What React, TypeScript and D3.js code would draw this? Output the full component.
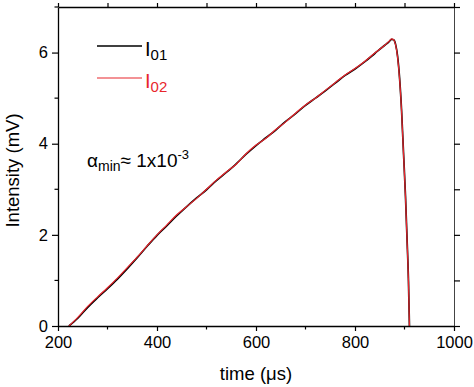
import React, { useEffect, useRef } from 'react'
import * as d3 from 'd3'

// time axis (µs) shared by both traces
const time = [222, 240, 260, 280, 300, 320, 340, 360, 380, 400, 420, 440, 460, 480, 500, 520, 540, 560, 580, 600, 620, 640, 660, 680, 700, 720, 740, 760, 780, 800, 820, 840, 860, 868, 874, 878, 882, 886, 890, 894, 898, 902, 905, 908, 910]

const i01 = [0, 0.17, 0.41, 0.62, 0.82, 1.03, 1.26, 1.5, 1.75, 1.99, 2.2, 2.42, 2.62, 2.81, 2.99, 3.19, 3.37, 3.56, 3.77, 3.96, 4.13, 4.3, 4.49, 4.66, 4.84, 5.0, 5.16, 5.33, 5.5, 5.64, 5.8, 5.98, 6.16, 6.23, 6.29, 6.28, 6.18, 5.92, 5.45, 4.75, 3.8, 2.85, 1.95, 1.0, 0]

const i02 = [0, 0.19, 0.43, 0.64, 0.84, 1.05, 1.28, 1.51, 1.76, 2.0, 2.22, 2.44, 2.62, 2.8, 3.0, 3.2, 3.38, 3.55, 3.78, 3.97, 4.12, 4.31, 4.48, 4.67, 4.85, 5.0, 5.17, 5.34, 5.51, 5.65, 5.81, 5.99, 6.16, 6.24, 6.3, 6.28, 6.17, 5.9, 5.43, 4.73, 3.78, 2.83, 1.93, 0.98, 0]

const xMajor = [200, 400, 600, 800, 1000]
const xMinor = [300, 500, 700, 900]
const yMajor = [0, 2, 4, 6]
const yMinor = [1, 3, 5, 7]

const series = [
  { name: '01', values: i01, color: '#000000', width: 1.7 },
  { name: '02', values: i02, color: '#e8262c', width: 1.2 },
]

export default function App() {
  const svgRef = useRef<SVGSVGElement>(null)
  const width = 474
  const height = 387

  useEffect(() => {
    if (!svgRef.current) return
    const root = d3.select(svgRef.current)
    root.selectAll('*').remove()

    const margin = { top: 7, right: 20, bottom: 61, left: 58 }
    const innerW = width - margin.left - margin.right
    const innerH = height - margin.top - margin.bottom
    const font = "'Liberation Sans', Arial, sans-serif"

    const x = d3.scaleLinear().domain([200, 1000]).range([0, innerW])
    const y = d3.scaleLinear().domain([0, 7]).range([innerH, 0])

    const g = root.append('g').attr('transform', `translate(${margin.left},${margin.top})`)

    // traces
    const line = d3.line<number>()
      .x((_, i) => x(time[i]))
      .y(d => y(d))
      .curve(d3.curveMonotoneX)

    series.forEach(s => {
      g.append('path')
        .datum(s.values)
        .attr('fill', 'none')
        .attr('stroke', s.color)
        .attr('stroke-width', s.width)
        .attr('d', line)
    })

    // frame axes, ticks outward (Origin style)
    const styleAxis = (sel: d3.Selection<SVGGElement, unknown, null, undefined>, showText: boolean) => {
      sel.select('.domain').attr('stroke', '#000').attr('stroke-width', 1.3)
      sel.selectAll('.tick line').attr('stroke', '#000').attr('stroke-width', 1.2)
      sel.selectAll('.tick text')
        .attr('font-family', font)
        .attr('font-size', 16.5)
        .attr('fill', '#000')
        .style('display', showText ? null : 'none')
    }

    const bottom = g.append('g').attr('transform', `translate(0,${innerH})`)
    bottom.call(d3.axisBottom(x).tickValues(xMajor).tickSize(5).tickSizeOuter(0).tickPadding(5).tickFormat(d3.format('d')))
    bottom.call(d => styleAxis(d, true))
    bottom.selectAll('.minor').data(xMinor).enter().append('line')
      .attr('x1', d => x(d)).attr('x2', d => x(d)).attr('y1', 0).attr('y2', 3.5)
      .attr('stroke', '#000').attr('stroke-width', 1.2)

    const top = g.append('g')
    top.call(d3.axisTop(x).tickValues([...xMajor, ...xMinor]).tickSize(4).tickSizeOuter(0))
    top.call(d => styleAxis(d, false))

    const left = g.append('g')
    left.call(d3.axisLeft(y).tickValues(yMajor).tickSize(6).tickSizeOuter(0).tickPadding(4).tickFormat(d3.format('d')))
    left.call(d => styleAxis(d, true))
    left.selectAll('.minor').data(yMinor).enter().append('line')
      .attr('x1', 0).attr('x2', -3.5).attr('y1', d => y(d)).attr('y2', d => y(d))
      .attr('stroke', '#000').attr('stroke-width', 1.2)

    const right = g.append('g').attr('transform', `translate(${innerW},0)`)
    right.call(d3.axisRight(y).tickValues([...yMajor, ...yMinor]).tickSize(6).tickSizeOuter(0))
    right.call(d => styleAxis(d, false))
    right.select('.domain').attr('stroke', '#444').attr('stroke-width', 1)

    // axis titles
    g.append('text')
      .attr('x', innerW / 2)
      .attr('y', innerH + 54)
      .attr('text-anchor', 'middle')
      .attr('font-family', font)
      .attr('font-size', 18.5)
      .text('time (μs)')

    g.append('text')
      .attr('transform', 'rotate(-90)')
      .attr('x', -innerH / 2 - 4)
      .attr('y', -margin.left + 19)
      .attr('text-anchor', 'middle')
      .attr('font-family', font)
      .attr('font-size', 18.5)
      .text('Intensity (mV)')

    // legend
    const legend = root.append('g').attr('font-family', font)
    series.forEach((s, i) => {
      const ly = 46 + i * 32
      legend.append('line')
        .attr('x1', 97).attr('x2', 142).attr('y1', ly).attr('y2', ly)
        .attr('stroke', s.color).attr('stroke-width', s.width)
      const t = legend.append('text')
        .attr('x', 145).attr('y', ly + 10)
        .attr('fill', s.color)
        .attr('font-size', 20)
      t.append('tspan').text('I')
      t.append('tspan').attr('font-size', 15).attr('dy', 4).text(s.name)
    })

    // annotation
    const ann = root.append('text')
      .attr('x', 87).attr('y', 167)
      .attr('font-family', font)
      .attr('font-size', 19)
    ann.append('tspan').text('α')
    ann.append('tspan').attr('font-size', 14).attr('dy', 4).text('min')
    ann.append('tspan').attr('dy', -4).text('≈ 1x10')
    ann.append('tspan').attr('font-size', 13).attr('dy', -8).text('-3')
  }, [])

  return (
    <svg
      ref={svgRef}
      width={width}
      height={height}
      style={{ position: 'absolute', left: 0, top: 0, background: '#fff' }}
    />
  )
}
